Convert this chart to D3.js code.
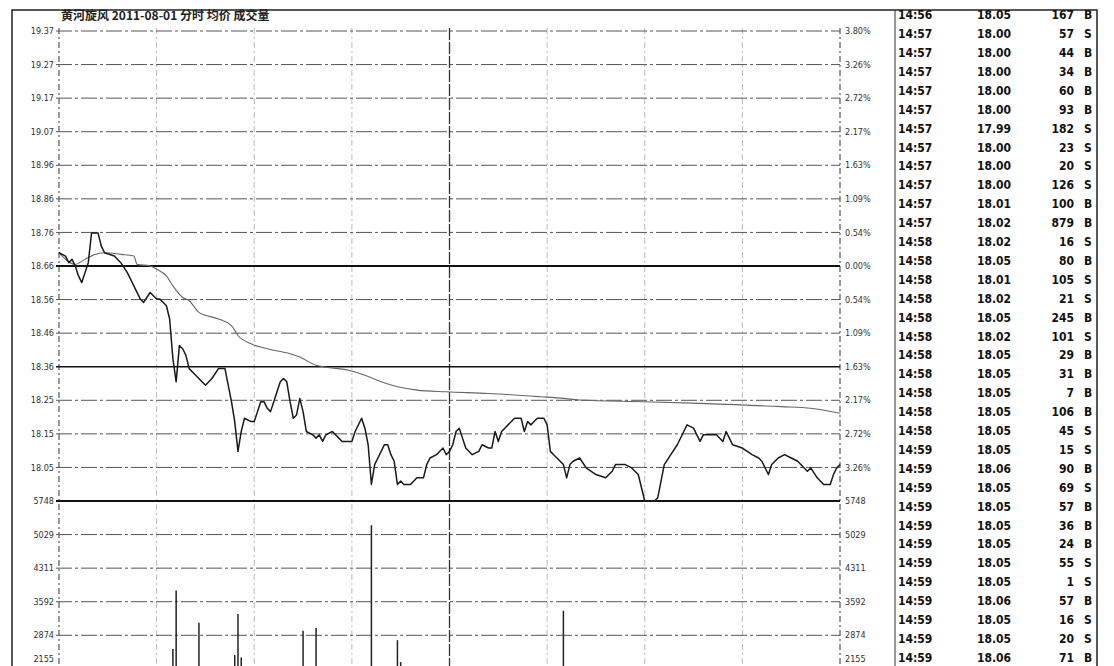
<!DOCTYPE html>
<html lang="zh">
<head>
	<meta charset="utf-8">
	<script src="https://cdn.jsdelivr.net/npm/d3@7"></script>
	<style>
		body{
		  margin:0; padding:0;
		  background-color:#ffffff;
		}
		.lbl{
		  font: 9px "DejaVu Sans Condensed", sans-serif;
		  fill:#333;
		}
		.tbl{
		  font: bold 12px "Liberation Sans Narrow", "DejaVu Sans Condensed", sans-serif;
		  fill:#111;
		}
		.title{
		  font: bold 12px "Noto Sans CJK SC", sans-serif;
		  fill:#222;
		}
	</style>
</head>
<body>
<div id="chart"></div>
<script>
// 分时图数据 (minute index 0..240, price)
var titleText = "黄河旋风   2011-08-01 分时 均价 成交量";

var priceTicks = ["19.37","19.27","19.17","19.07","18.96","18.86","18.76","18.66","18.56","18.46","18.36","18.25","18.15","18.05"];
var pctTicks   = ["3.80%","3.26%","2.72%","2.17%","1.63%","1.09%","0.54%","0.00%","0.54%","1.09%","1.63%","2.17%","2.72%","3.26%"];
var volTicks   = ["5748","5029","4311","3592","2874","2155"];

var priceTop = 19.37, priceBottom = 17.95, volMax = 5748;

var pricePts = [
 [0,18.70],[2,18.69],[3,18.67],[4,18.68],[5,18.66],[6,18.63],[7,18.61],[8,18.64],[9,18.67],[10,18.76],
 [12,18.76],[13,18.72],[14,18.70],[17,18.69],[19,18.67],[21,18.64],[23,18.60],[25,18.56],[26,18.55],[28,18.58],
 [29,18.57],[30,18.56],[31,18.56],[33,18.54],[34,18.50],[35,18.38],[36,18.31],[37,18.42],[38,18.41],[39,18.39],
 [40,18.35],[42,18.33],[45,18.30],[47,18.32],[49,18.35],[51,18.35],[52,18.30],[53,18.25],[54,18.19],[55,18.10],
 [56,18.16],[57,18.20],[59,18.19],[60,18.19],[61,18.22],[62,18.25],[63,18.25],[64,18.23],[65,18.22],[66,18.25],
 [67,18.28],[68,18.31],[69,18.32],[70,18.31],[71,18.25],[72,18.20],[73,18.21],[74,18.26],[75,18.22],[76,18.16],
 [78,18.15],[79,18.14],[80,18.15],[81,18.13],[82,18.15],[84,18.16],[86,18.14],[87,18.13],[90,18.13],[91,18.16],
 [93,18.20],[94,18.17],[95,18.12],[96,18.00],[97,18.06],[98,18.08],[99,18.10],[100,18.12],[101,18.12],[102,18.09],
 [103,18.07],[104,18.00],[105,18.01],[106,18.00],[108,18.00],[110,18.02],[112,18.02],[113,18.06],[114,18.08],[116,18.09],
 [118,18.11],[119,18.09],[120,18.10],[121,18.12],[122,18.16],[123,18.17],[124,18.14],[125,18.11],[127,18.09],[129,18.10],
 [130,18.12],[132,18.11],[133,18.11],[134,18.16],[135,18.13],[136,18.16],[137,18.17],[139,18.19],[140,18.20],[142,18.20],
 [143,18.16],[144,18.19],[145,18.18],[146,18.19],[147,18.20],[149,18.20],[150,18.18],[151,18.10],[152,18.09],[154,18.07],
 [155,18.06],[156,18.02],[157,18.06],[158,18.07],[160,18.08],[162,18.05],[165,18.03],[168,18.02],[170,18.04],[171,18.06],
 [174,18.06],[176,18.05],[178,18.03],[179,17.99],[180,17.95],[183,17.95],[184,17.96],[185,18.01],[186,18.06],[188,18.09],
 [190,18.12],[192,18.16],[193,18.18],[195,18.17],[196,18.15],[197,18.13],[198,18.15],[202,18.15],[204,18.13],[205,18.16],
 [206,18.14],[207,18.12],[210,18.11],[213,18.09],[215,18.08],[216,18.07],[218,18.03],[219,18.06],[221,18.08],[223,18.09],
 [225,18.08],[227,18.07],[229,18.05],[230,18.04],[231,18.05],[233,18.02],[235,18.00],[237,18.00],[238,18.03],[239,18.05],
 [240,18.06]
];

var avgPts = [
 [0,18.70],[5,18.665],[8,18.68],[11,18.695],[14,18.70],[19,18.695],[23,18.69],[24,18.665],[28,18.66],[30,18.65],
 [33,18.63],[35,18.60],[38,18.565],[40,18.555],[43,18.52],[49,18.50],[53,18.48],[55,18.45],[59,18.425],[64,18.41],
 [71,18.395],[74,18.385],[79,18.36],[89,18.345],[94,18.33],[99,18.31],[104,18.295],[110,18.285],[119,18.28],[132,18.275],
 [148,18.265],[155,18.26],[160,18.255],[180,18.25],[197,18.245],[222,18.235],[231,18.23],[240,18.215]
];

var volBars = [
 [35,2580],[36,3830],[43,3140],[54,2450],[55,3330],[56,2400],[75,2970],[79,3030],[96,5230],[104,2770],[105,2300],[155,3400]
];

// 分笔成交
var tradeTime  = ["14:56","14:57","14:57","14:57","14:57","14:57","14:57","14:57","14:57","14:57","14:57","14:57",
                  "14:58","14:58","14:58","14:58","14:58","14:58","14:58","14:58","14:58","14:58","14:58",
                  "14:59","14:59","14:59","14:59","14:59","14:59","14:59","14:59","14:59","14:59","14:59","14:59"];
var tradePrice = ["18.05","18.00","18.00","18.00","18.00","18.00","17.99","18.00","18.00","18.00","18.01","18.02",
                  "18.02","18.05","18.01","18.02","18.05","18.02","18.05","18.05","18.05","18.05","18.05",
                  "18.05","18.06","18.05","18.05","18.05","18.05","18.05","18.05","18.06","18.05","18.05","18.06"];
var tradeVol   = [167,57,44,34,60,93,182,23,20,126,100,879,
                  16,80,105,21,245,101,29,31,7,106,45,
                  15,90,69,57,36,24,55,1,57,16,20,71];
var tradeSide  = ["B","S","B","B","B","B","S","S","S","S","B","B",
                  "S","B","S","S","B","S","B","B","B","B","S",
                  "S","B","S","B","B","B","S","S","B","S","S","B"];

var W = 1114, H = 666;
var plotL = 59, plotR = 840, priceT = 31, priceB = 501;

var svg = d3.select("#chart").append("svg")
	.attr("width", W).attr("height", H);

var x = d3.scaleLinear().domain([0, 240]).range([plotL, plotR]);
var y = d3.scaleLinear().domain([priceBottom, priceTop]).range([priceB, priceT]);
var rowH = (priceB - priceT) / 14;
var yv = d3.scaleLinear().domain([0, volMax]).range([priceB + rowH * 8, priceB]);

// frame
svg.append("path")
	.attr("d", "M12,666 L12,10 L1097,10 L1097,666")
	.attr("fill", "none").attr("stroke", "#222").attr("stroke-width", 1.5);
svg.append("line")
	.attr("x1", 895).attr("x2", 895).attr("y1", 10).attr("y2", H)
	.attr("stroke", "#333").attr("stroke-width", 1);

svg.append("text").attr("class", "title")
	.attr("x", 61).attr("y", 20)
	.text(titleText);

// vertical grid
var vTicks = d3.range(0, 241, 30);
svg.append("g").selectAll("line")
	.data(vTicks).enter().append("line")
	.attr("x1", function(d){ return x(d); })
	.attr("x2", function(d){ return x(d); })
	.attr("y1", priceT - 3).attr("y2", H)
	.attr("stroke", function(d){ return (d === 0 || d === 240 || d === 120) ? "#333" : "#bbb"; })
	.attr("stroke-width", function(d){ return d === 120 ? 1.3 : 1; })
	.attr("stroke-dasharray", function(d){ return d === 120 ? "12,2" : "6,3,2,3"; });

// price grid rows
var priceRows = d3.range(0, 14).map(function(i){ return priceTop - i * (priceTop - priceBottom) / 14; });
svg.append("g").selectAll("line")
	.data(priceRows).enter().append("line")
	.attr("x1", plotL - 3).attr("x2", plotR)
	.attr("y1", function(d){ return y(d); })
	.attr("y2", function(d){ return y(d); })
	.attr("stroke", function(d, i){ return (i === 7 || i === 10) ? "#111" : "#555"; })
	.attr("stroke-width", function(d, i){ return i === 7 ? 2 : (i === 10 ? 1.4 : 1); })
	.attr("stroke-dasharray", function(d, i){ return (i === 7 || i === 10) ? null : "16,3,3,3"; });

svg.append("g").selectAll("text")
	.data(priceRows).enter().append("text")
	.attr("class", "lbl")
	.attr("x", 54).attr("y", function(d){ return y(d); })
	.attr("dy", "0.35em").attr("text-anchor", "end")
	.text(function(d, i){ return priceTicks[i]; });

svg.append("g").selectAll("text")
	.data(priceRows).enter().append("text")
	.attr("class", "lbl")
	.attr("x", 845).attr("y", function(d){ return y(d); })
	.attr("dy", "0.35em")
	.text(function(d, i){ return pctTicks[i]; });

// separator price / volume
svg.append("line")
	.attr("x1", plotL - 3).attr("x2", plotR)
	.attr("y1", priceB).attr("y2", priceB)
	.attr("stroke", "#111").attr("stroke-width", 2);

// volume grid rows
var volRows = volTicks.map(function(t, i){ return volMax - i * volMax / 8; });
svg.append("g").selectAll("line")
	.data(volRows.slice(1)).enter().append("line")
	.attr("x1", plotL - 3).attr("x2", plotR)
	.attr("y1", function(d){ return yv(d); })
	.attr("y2", function(d){ return yv(d); })
	.attr("stroke", "#555").attr("stroke-width", 1)
	.attr("stroke-dasharray", "16,3,3,3");

// last row sits on the bottom edge, keep its label inside
var volLabelY = function(d){ return Math.min(yv(d), 659); };

svg.append("g").selectAll("text")
	.data(volRows).enter().append("text")
	.attr("class", "lbl")
	.attr("x", 54).attr("y", volLabelY)
	.attr("dy", "0.35em").attr("text-anchor", "end")
	.text(function(d, i){ return volTicks[i]; });

svg.append("g").selectAll("text")
	.data(volRows).enter().append("text")
	.attr("class", "lbl")
	.attr("x", 845).attr("y", volLabelY)
	.attr("dy", "0.35em")
	.text(function(d, i){ return volTicks[i]; });

// volume bars
svg.append("g").selectAll("line")
	.data(volBars).enter().append("line")
	.attr("x1", function(d){ return x(d[0]); })
	.attr("x2", function(d){ return x(d[0]); })
	.attr("y1", function(d){ return yv(d[1]); })
	.attr("y2", yv(0))
	.attr("stroke", "#222").attr("stroke-width", 1.5);

// average line
var line = d3.line()
	.x(function(d){ return x(d[0]); })
	.y(function(d){ return y(d[1]); });

svg.append("path")
	.datum(avgPts)
	.attr("d", line.curve(d3.curveMonotoneX))
	.attr("fill", "none").attr("stroke", "#666").attr("stroke-width", 1.1);

// price line
svg.append("path")
	.datum(pricePts)
	.attr("d", d3.line()
		.x(function(d){ return x(d[0]); })
		.y(function(d){ return y(d[1]); }))
	.attr("fill", "none").attr("stroke", "#1a1a1a").attr("stroke-width", 1.5)
	.attr("stroke-linejoin", "round");

// trade table
var rowY = function(i){ return 15 + i * 18.9; };
var tbl = svg.append("g");
tbl.selectAll(".t").data(tradeTime).enter().append("text")
	.attr("class", "tbl").attr("x", 898).attr("y", function(d, i){ return rowY(i); })
	.attr("dy", "0.35em").text(function(d){ return d; });
tbl.selectAll(".p").data(tradePrice).enter().append("text")
	.attr("class", "tbl").attr("x", 994).attr("y", function(d, i){ return rowY(i); })
	.attr("dy", "0.35em").attr("text-anchor", "middle").text(function(d){ return d; });
tbl.selectAll(".v").data(tradeVol).enter().append("text")
	.attr("class", "tbl").attr("x", 1074).attr("y", function(d, i){ return rowY(i); })
	.attr("dy", "0.35em").attr("text-anchor", "end").text(function(d){ return d; });
tbl.selectAll(".s").data(tradeSide).enter().append("text")
	.attr("class", "tbl").attr("x", 1084).attr("y", function(d, i){ return rowY(i); })
	.attr("dy", "0.35em").text(function(d){ return d; });
</script>
</body>
</html>
